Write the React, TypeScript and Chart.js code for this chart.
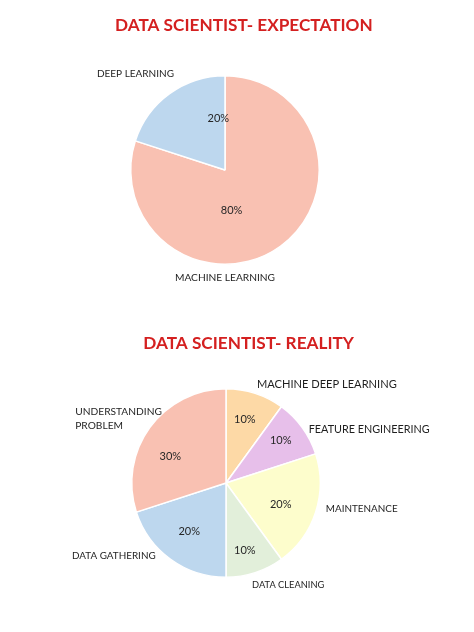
import React, { useEffect, useRef } from "react";
import { Chart, registerables } from "chart.js";

Chart.register(...registerables);

// ---- data ----
const expectationTitle = "DATA SCIENTIST- EXPECTATION";
const expectationCategories = ["MACHINE LEARNING", "DEEP LEARNING"];
const expectationValues = [80, 20];
const expectationColors = ["#F9C1B2", "#BDD7EE"];

const realityTitle = "DATA SCIENTIST- REALITY";
const realityCategories = [
  "MACHINE DEEP LEARNING",
  "FEATURE ENGINEERING",
  "MAINTENANCE",
  "DATA CLEANING",
  "DATA GATHERING",
  "UNDERSTANDING PROBLEM",
];
const realityValues = [10, 10, 20, 10, 20, 30];
const realityColors = ["#FDD9A6", "#E7BFEA", "#FDFDCC", "#E2EFDA", "#BDD7EE", "#F9C1B2"];

// ---- label placement (in units of the pie radius, relative to its centre) ----
const expectationLayout = {
  title: { dx: 0.2, dy: -1.53 },
  pct: [
    { dx: 0.07, dy: 0.43 },
    { dx: -0.07, dy: -0.55 },
  ],
  cat: [
    { dx: 0.0, dy: 1.14, size: 10.2 },
    { dx: -0.95, dy: -1.02, size: 10 },
  ],
};

const realityLayout = {
  title: { dx: 0.24, dy: -1.48 },
  pct: [
    { dx: 0.2, dy: -0.67 },
    { dx: 0.58, dy: -0.45 },
    { dx: 0.58, dy: 0.23 },
    { dx: 0.2, dy: 0.72 },
    { dx: -0.39, dy: 0.51 },
    { dx: -0.59, dy: -0.28 },
  ],
  cat: [
    { dx: 1.07, dy: -1.05, size: 11.1 },
    { dx: 1.52, dy: -0.57, size: 10.8 },
    { dx: 1.44, dy: 0.27, size: 9.9 },
    { dx: 0.66, dy: 1.08, size: 9.3 },
    { dx: -1.19, dy: 0.77, size: 9.9 },
    { dx: -1.14, dy: -0.68, size: 10.2, wrap: true, align: "left" },
  ],
};

const FONT = "Lato, 'Open Sans', sans-serif";

const pieTextPlugin = {
  id: "pieText",
  afterDatasetsDraw(chart: any, _args: any, opts: any) {
    const ctx = chart.ctx as CanvasRenderingContext2D;
    const meta = chart.getDatasetMeta(0);
    const arc0 = meta.data[0];
    if (!arc0) return;
    const cx = arc0.x;
    const cy = arc0.y;
    const r = arc0.outerRadius;
    const values: number[] = chart.data.datasets[0].data;
    const labels: string[] = chart.data.labels;
    const total = values.reduce((a, b) => a + b, 0);
    const layout = opts.layout;

    ctx.save();
    ctx.textBaseline = "middle";

    // title
    ctx.font = `bold ${opts.titleSize}px ${FONT}`;
    ctx.fillStyle = "#D42020";
    ctx.textAlign = "center";
    ctx.fillText(opts.title, cx + layout.title.dx * r, cy + layout.title.dy * r);

    // percentages
    ctx.fillStyle = "#262626";
    ctx.font = `11px ${FONT}`;
    values.forEach((v, i) => {
      const p = layout.pct[i];
      const txt = Math.round((v / total) * 100) + "%";
      ctx.fillText(txt, cx + p.dx * r, cy + p.dy * r);
    });

    // category names
    ctx.fillStyle = "#1f1f1f";
    labels.forEach((lab, i) => {
      const c = layout.cat[i];
      ctx.font = `${c.size}px ${FONT}`;
      const x = cx + c.dx * r;
      const y = cy + c.dy * r;
      if (c.wrap) {
        const lines = lab.split(" ");
        const widths = lines.map((l) => ctx.measureText(l).width);
        const maxW = Math.max(...widths);
        const lh = c.size * 1.35;
        lines.forEach((l, k) => {
          const ly = y + (k - (lines.length - 1) / 2) * lh;
          if (c.align === "left") {
            ctx.textAlign = "left";
            ctx.fillText(l, x - maxW / 2, ly);
          } else {
            ctx.textAlign = "center";
            ctx.fillText(l, x, ly);
          }
        });
        ctx.textAlign = "center";
      } else {
        ctx.textAlign = "center";
        ctx.fillText(lab, x, y);
      }
    });
    ctx.restore();
  },
};

type PieProps = {
  labels: string[];
  values: number[];
  colors: string[];
  padding: { left: number; right: number; top: number; bottom: number };
  title: string;
  layout: any;
  top: number;
};

function PieChart({ labels, values, colors, padding, title, layout, top }: PieProps) {
  const ref = useRef<HTMLCanvasElement>(null);
  useEffect(() => {
    const chart = new Chart(ref.current as HTMLCanvasElement, {
      type: "pie",
      data: {
        labels,
        datasets: [
          {
            data: values,
            backgroundColor: colors,
            borderColor: "#ffffff",
            borderWidth: 1.5,
          },
        ],
      },
      options: {
        responsive: false,
        animation: false,
        devicePixelRatio: 1,
        layout: { padding },
        plugins: {
          legend: { display: false },
          tooltip: { enabled: false },
          // @ts-ignore
          pieText: { title, layout, titleSize: 17.2 },
        },
      } as any,
      plugins: [pieTextPlugin as any],
    });
    return () => chart.destroy();
  }, []);
  return (
    <canvas
      ref={ref}
      width={474}
      height={316}
      style={{ position: "absolute", left: 0, top, width: 474, height: 316, display: "block" }}
    />
  );
}

export default function App() {
  return (
    <div style={{ position: "absolute", left: 0, top: 0, width: 474, height: 632, background: "#ffffff" }}>
      <PieChart
        labels={expectationCategories}
        values={expectationValues}
        colors={expectationColors}
        padding={{ left: 130, right: 154, top: 75, bottom: 51 }}
        title={expectationTitle}
        layout={expectationLayout}
        top={0}
      />
      <PieChart
        labels={realityCategories}
        values={realityValues}
        colors={realityColors}
        padding={{ left: 131, right: 153, top: 72, bottom: 54 }}
        title={realityTitle}
        layout={realityLayout}
        top={316}
      />
    </div>
  );
}
